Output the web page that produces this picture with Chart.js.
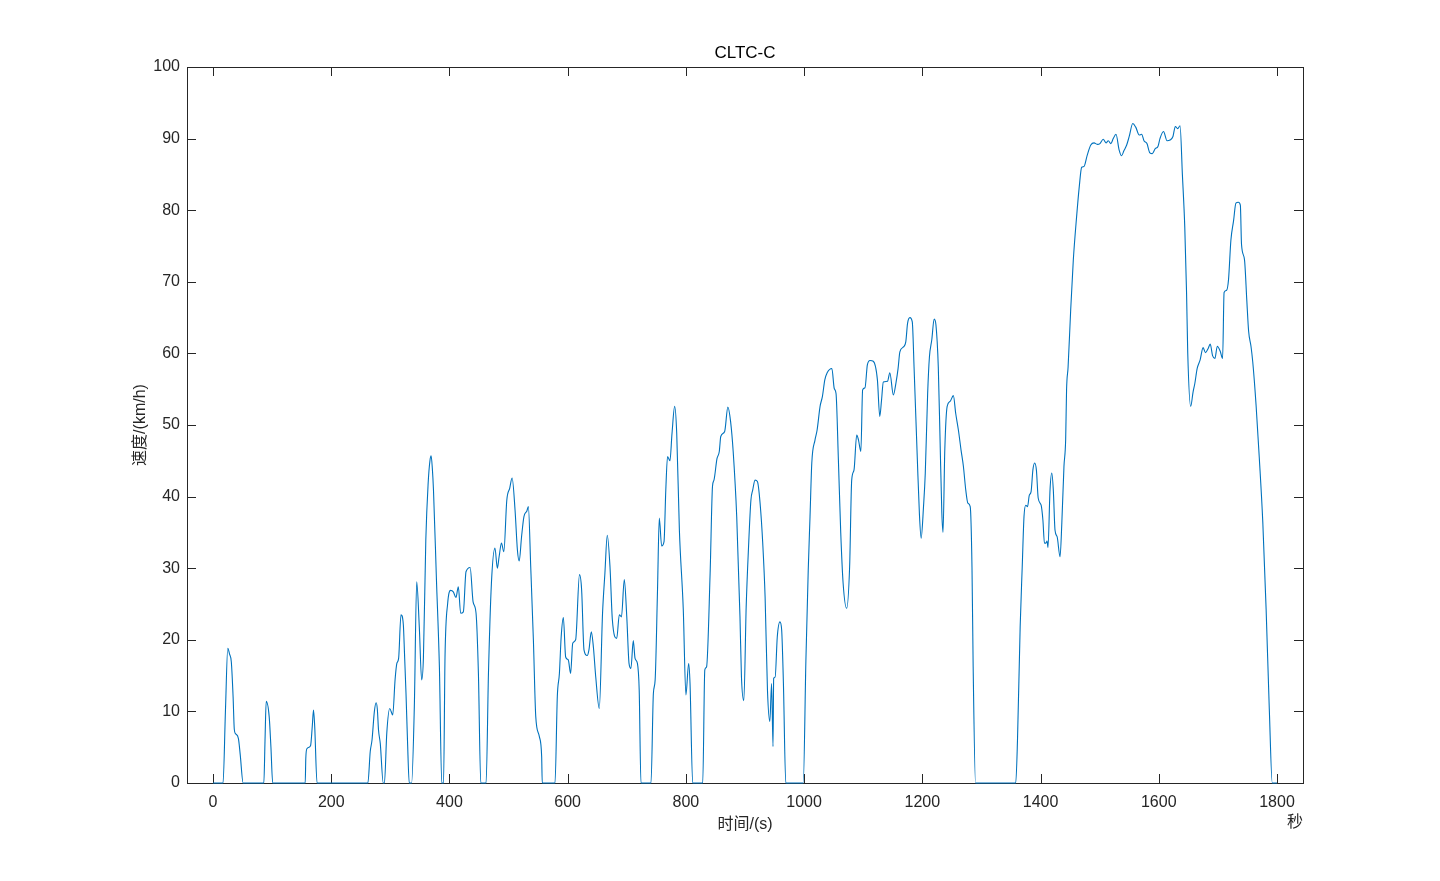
<!DOCTYPE html>
<html>
<head>
<meta charset="utf-8">
<title>CLTC-C</title>
<script src="https://cdn.jsdelivr.net/npm/chart.js@4.4.1/dist/chart.umd.min.js"></script>
<style>
  html, body { margin: 0; padding: 0; background: #fff; }
  #wrap { width: 1440px; height: 881px; }
</style>
</head>
<body>
<div id="wrap"><canvas id="cltcChart" width="1440" height="881"></canvas></div>
<script>
// time (s) and speed (km/h)
const timeSec = [
  0, 17, 21, 25, 28, 31, 34, 36, 38, 43, 46, 51,
  86, 88, 90, 95, 98, 101,
  156, 157, 159, 165, 168, 170, 172, 176,
  262, 266, 269, 273, 276, 278, 280, 283, 288,
  290, 294, 299, 304, 308, 311, 314, 318, 322, 324, 326.5, 329, 332,
  336, 340.6, 344.6, 349, 353, 356, 360, 364, 367, 369, 371, 373, 378, 383, 387,
  390, 392.5, 397, 402, 406.5, 411, 415, 419, 423.5, 428, 435, 440, 445, 449, 453,
  462, 466, 471, 477, 481, 484, 488, 492, 497, 502, 506, 511, 515, 518, 522, 526, 531, 533.5, 537.5, 542, 546, 552, 556, 557,
  578.6, 582.5, 586, 589, 592.7, 596.6, 601, 605, 608.5, 613.5, 620, 623.6, 627.6, 633, 636, 640, 643.5, 647.5, 653.5,
  659, 663, 667, 671.6, 675.6, 683, 687.4, 691, 695.8, 700, 703.8, 707, 711, 714, 718, 721, 724,
  741, 745, 748, 752, 755, 759, 763, 766, 769, 773, 776.5, 781, 784.5, 789, 795.6, 800, 804.7, 807, 811.5,
  828.5, 832, 835, 841, 845, 847.5, 852.6, 856.5, 859, 865.6, 871, 875.6, 880, 886, 891.5, 894, 898,
  902, 906, 910, 913, 917, 921, 925.5, 930, 934, 938, 942, 945, 947.4, 948.5, 951, 954.6, 959, 962, 965, 969,
  998.6, 1003, 1007, 1010, 1013, 1018.4, 1022, 1027, 1031, 1035, 1039, 1047, 1051, 1054, 1058, 1062, 1066, 1072,
  1077, 1080.5, 1084.4, 1089, 1092, 1096, 1099, 1103, 1107, 1111.5, 1117, 1124, 1128, 1131, 1134, 1141, 1145,
  1151, 1155.6, 1159, 1162, 1168, 1172, 1175, 1179, 1183, 1186, 1191.6, 1195, 1198, 1202, 1205, 1209, 1212,
  1216, 1220, 1223, 1227, 1230, 1233, 1235, 1238, 1242, 1247, 1252.5, 1256.5, 1261, 1265.5, 1269.5, 1273.5,
  1277, 1281, 1284, 1286, 1290,
  1358, 1361, 1365.5, 1369, 1372, 1375, 1378, 1381, 1384, 1387, 1390, 1393, 1396, 1401, 1404, 1406.6, 1409,
  1411, 1412.6, 1416, 1419, 1421.6, 1424.5, 1428, 1433, 1436, 1439.6, 1442.5, 1444, 1446.6, 1451, 1455.4,
  1461, 1465.5, 1469.6, 1473.5, 1479, 1485, 1490.5, 1496, 1500.5, 1506, 1510.7, 1514.6, 1519, 1523, 1527.6,
  1533, 1537, 1541, 1545.7, 1550, 1556, 1561, 1567, 1571, 1575, 1580, 1585, 1589, 1594, 1598.6, 1602, 1608,
  1614, 1619, 1624, 1628, 1632, 1636, 1640, 1644, 1647, 1649, 1654, 1658, 1661, 1665, 1670, 1675, 1679,
  1683.6, 1687, 1691, 1695, 1699, 1704, 1708, 1710.5, 1714.6, 1718, 1722, 1726.5, 1730.5, 1734.5, 1738,
  1740, 1745, 1749, 1752, 1756, 1759, 1764.6, 1770, 1776, 1781.6, 1787, 1792, 1800
];
const speedKmh = [
  0, 0, 10, 18.8, 18, 16.9, 12, 7.5, 6.9, 6.2, 4, 0,
  0, 6, 11.4, 9.3, 5, 0,
  0, 3.5, 4.8, 5.2, 8, 10.2, 8, 0,
  0, 4.4, 6.0, 10, 11.2, 10.3, 7.4, 5.5, 0,
  0, 7, 10.4, 9.5, 14.4, 16.7, 17.4, 23.5, 22.1, 18, 12.5, 6, 0,
  0, 10.7, 28.1, 21.8, 14.4, 17.6, 33.9, 41.9, 45, 45.7, 44, 40.9, 28.4, 16.2, 0,
  0, 17.6, 25.1, 26.9, 26.7, 25.9, 27.4, 23.7, 23.9, 29.5, 30.1, 25.3, 23.7, 15.3, 0,
  0, 15.3, 27.9, 32.8, 30.0, 31.6, 33.5, 32.3, 39.5, 41.2, 42.6, 38.1, 32.5, 31.0, 34.4, 37.2, 38.0, 38.6, 30.2, 20.0, 9.3, 6.5, 3.7, 0,
  0, 12.1, 15.3, 20.4, 23.1, 17.6, 17.2, 15.3, 19.5, 20.0, 29.1, 27.0, 18.6, 17.8, 18.6, 21.1, 19.0, 14.8, 10.4,
  23.7, 29.3, 34.6, 30.2, 22.8, 20.2, 23.5, 23.2, 28.4, 23.2, 16.7, 16.0, 19.9, 17.4, 16.7, 13.0, 0,
  0, 12.5, 14.4, 27.0, 37.0, 33.1, 33.7, 40.9, 45.6, 45.0, 48.8, 52.6, 48.8, 35.3, 24.2, 12.3, 16.7, 13.9, 0,
  0, 15.8, 16.2, 29.3, 41.4, 42.3, 45.3, 46.3, 48.4, 49.1, 52.5, 50.5, 46.3, 37.2, 23.2, 14.8, 11.5,
  24.6, 33.0, 39.5, 40.9, 42.3, 42.1, 39.1, 33.5, 26.0, 13.0, 8.6, 13.9, 5.1, 14.6, 14.8, 20.4, 22.5, 21.4, 13.9, 0,
  0, 17, 29.8, 37.2, 44.7, 47.9, 49.3, 52.6, 54.0, 56.3, 57.3, 57.9, 55.1, 54.4, 45.1, 34.9, 27.9, 24.4,
  30.2, 42.3, 43.7, 48.6, 47.9, 46.3, 54.9, 55.2, 58.4, 59.0, 58.9, 56.3, 51.2, 53.5, 56.0, 56.1, 57.3,
  54.2, 56.0, 57.9, 60.2, 60.9, 61.6, 64.2, 65.0, 64.4, 58.1, 45.1, 37.7, 34.2, 38.6, 43.3, 54.4, 59.5,
  61.9, 64.8, 64.0, 58.1, 47.9, 37.7, 35.0, 46.5, 52.6, 53.3, 54.1, 51.6, 49.3, 46.5, 44.2, 40.9,
  39.1, 38.6, 30.2, 16.2, 0,
  0, 6, 21.8, 30.2, 37.2, 38.8, 38.6, 40.2, 40.7, 43.7, 44.7, 43.7, 39.8, 38.8, 36.7, 33.5, 33.5,
  33.8, 32.9, 40.9, 43.3, 40.9, 35.3, 34.4, 31.6, 36.3, 44.2, 48, 54.9, 58.1, 66.1, 73.0,
  79.1, 83.3, 86.0, 86.1, 87.7, 89.1, 89.4, 89.2, 89.3, 89.9, 89.4, 89.7, 89.3, 90.0, 90.6,
  88.4, 87.6, 88.3, 89.1, 90.3, 92.1, 91.6, 90.5, 90.6, 89.7, 89.3, 88.0, 87.9, 88.6, 88.9, 90.0, 91.0,
  89.7, 89.8, 90.3, 91.7, 91.4, 91.8, 84.9, 77.6, 68.5, 60.1, 52.6, 54.6, 55.8, 57.9, 59.1, 60.8, 60.1,
  60.7, 61.3, 59.7, 59.3, 61.0, 60.3, 59.3, 68.5, 68.8, 70.3, 75.8, 78.5, 81.0, 81.1, 80.7,
  75.2, 73.1, 67.3, 63.1, 61.0, 58.8, 52.8, 45.5, 36.4, 24.3, 10.3, 0, 0
];
const xTickValues = [0, 200, 400, 600, 800, 1000, 1200, 1400, 1600, 1800];
const yTickValues = [0, 10, 20, 30, 40, 50, 60, 70, 80, 90, 100];

const axisColor = '#262626';
const tickFont = { family: 'Liberation Sans, Arial, sans-serif', size: 16 };

// box, inward ticks on all four sides, and the text labels (MATLAB look)
const matlabAxes = {
  id: 'matlabAxes',
  beforeDatasetsDraw(chart) {
    const { ctx, chartArea: a, scales } = chart;
    ctx.save();
    ctx.strokeStyle = axisColor;
    ctx.lineWidth = 1;
    ctx.strokeRect(a.left + 0.5, a.top + 0.5, a.right - a.left, a.bottom - a.top);
    const len = 9;
    ctx.beginPath();
    xTickValues.forEach(v => {
      const px = Math.round(scales.x.getPixelForValue(v)) + 0.5;
      ctx.moveTo(px, a.bottom); ctx.lineTo(px, a.bottom - len);
      ctx.moveTo(px, a.top); ctx.lineTo(px, a.top + len);
    });
    yTickValues.forEach(v => {
      const py = Math.round(scales.y.getPixelForValue(v)) + 0.5;
      ctx.moveTo(a.left, py); ctx.lineTo(a.left + len, py);
      ctx.moveTo(a.right, py); ctx.lineTo(a.right - len, py);
    });
    ctx.stroke();
    ctx.restore();
  },
  afterDraw(chart) {
    const { ctx, chartArea: a } = chart;
    ctx.save();
    ctx.fillStyle = '#000';
    ctx.textAlign = 'center';
    ctx.textBaseline = 'middle';
    ctx.font = '17px "Liberation Sans", Arial, sans-serif';
    ctx.fillText('CLTC-C', (a.left + a.right) / 2, 53);

    ctx.fillStyle = axisColor;
    ctx.font = '16px "Liberation Sans", "Noto Sans CJK SC", sans-serif';
    ctx.fillText('时间/(s)', (a.left + a.right) / 2, 825);
    ctx.fillText('秒', 1295, 823);

    ctx.translate(141, (a.top + a.bottom) / 2);
    ctx.rotate(-Math.PI / 2);
    ctx.fillText('速度/(km/h)', 0, 0);
    ctx.restore();
  }
};

const ctx = document.getElementById('cltcChart').getContext('2d');
new Chart(ctx, {
  type: 'line',
  data: {
    datasets: [{
      label: 'CLTC-C',
      data: timeSec.map((t, i) => ({ x: t, y: speedKmh[i] })),
      borderColor: '#0072BD',
      borderWidth: 1.1,
      pointRadius: 0,
      fill: false,
      cubicInterpolationMode: 'monotone',
      clip: 3
    }]
  },
  options: {
    responsive: false,
    animation: false,
    layout: { padding: { left: 0, right: 137, top: 67, bottom: 0 } },
    plugins: {
      legend: { display: false },
      title: { display: false },
      tooltip: { enabled: false }
    },
    scales: {
      x: {
        type: 'linear',
        min: -44,
        max: 1844,
        afterBuildTicks: scale => { scale.ticks = xTickValues.map(v => ({ value: v })); },
        afterFit: scale => { scale.height = 98; },
        grid: { display: false, drawTicks: false },
        border: { display: false },
        ticks: { color: axisColor, font: tickFont, padding: 10, maxRotation: 0, autoSkip: false, callback: v => String(v) }
      },
      y: {
        min: 0,
        max: 100,
        afterBuildTicks: scale => { scale.ticks = yTickValues.map(v => ({ value: v })); },
        afterFit: scale => { scale.width = 187; },
        grid: { display: false, drawTicks: false },
        border: { display: false },
        ticks: { color: axisColor, font: tickFont, padding: 7, callback: v => String(v) }
      }
    }
  },
  plugins: [matlabAxes]
});
</script>
</body>
</html>
